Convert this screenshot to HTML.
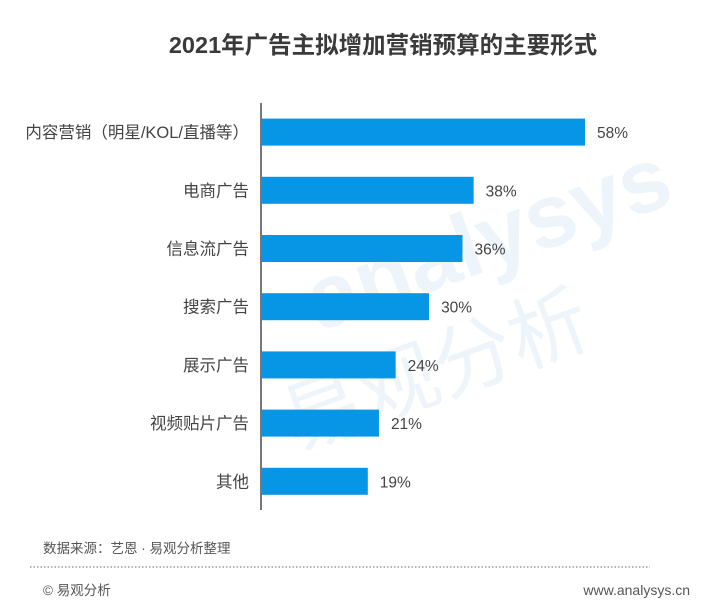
<!DOCTYPE html>
<html><head><meta charset="utf-8">
<style>
body{margin:0;background:#fff;}
#wrap{position:relative;width:703px;height:609px;overflow:hidden;background:#fff;font-family:"Liberation Sans","Noto Sans CJK SC",sans-serif;}
</style></head>
<body>
<div id="wrap">
<svg id="chart" width="703" height="609">
  <g opacity="0.08">
    <text x="300" y="300" font-size="90" font-weight="bold" fill="#2a8fd8" transform="rotate(-20 400 260)" font-family="Liberation Sans, sans-serif">analysys</text>
    <text x="270" y="410" font-size="80" fill="#2a8fd8" transform="rotate(-20 400 360)" font-family="Noto Sans CJK SC, sans-serif">易观分析</text>
  </g>
  <text x="383" y="53" text-anchor="middle" font-size="23.5" font-weight="bold" fill="#3a3a3a" font-family="Liberation Sans, Noto Sans CJK SC, sans-serif">2021年广告主拟增加营销预算的主要形式</text>
  <g id="bars"></g>
  <line x1="261" y1="103" x2="261" y2="510" stroke="#777" stroke-width="2"/>
  <text x="43" y="553" font-size="13.5" fill="#555" font-family="Liberation Sans, Noto Sans CJK SC, sans-serif">数据来源：艺恩 · 易观分析整理</text>
  <line x1="30" y1="567" x2="650" y2="567" stroke="#999" stroke-width="1.5" stroke-dasharray="1.5 2"/>
  <text x="43" y="595" font-size="13.5" fill="#555" font-family="Liberation Sans, Noto Sans CJK SC, sans-serif">© 易观分析</text>
  <text x="690" y="595" text-anchor="end" font-size="14" fill="#555" font-family="Liberation Sans, sans-serif">www.analysys.cn</text>
</svg>
</div>
<script>
const categories = ["内容营销（明星/KOL/直播等）","电商广告","信息流广告","搜索广告","展示广告","视频贴片广告","其他"];
const values = [58,38,36,30,24,21,19];
const valueLabels = ["58%","38%","36%","30%","24%","21%","19%"];

const x0 = 262, pxPer = (585-262)/58;
const xScale = v => x0 + v*pxPer;
const yTop = 103, band = 58.2;
const yCenter = i => yTop + band*(i+0.5);
const barH = 27;
const NS = "http://www.w3.org/2000/svg";
const g = document.getElementById('bars');
categories.forEach((c,i)=>{
  const cy = yCenter(i);
  const r = document.createElementNS(NS,'rect');
  r.setAttribute('x', x0);
  r.setAttribute('y', cy - barH/2);
  r.setAttribute('width', xScale(values[i]) - x0);
  r.setAttribute('height', barH);
  r.setAttribute('fill', '#0795e6');
  
  
  g.appendChild(r);
  const l = document.createElementNS(NS,'text');
  l.setAttribute('x', 249);
  l.setAttribute('y', cy + 6);
  l.setAttribute('text-anchor', 'end');
  l.setAttribute('font-size', '16.5');
  l.setAttribute('fill', '#444');
  l.setAttribute('font-family', 'Liberation Sans, Noto Sans CJK SC, sans-serif');
  l.textContent = c;
  
  
  g.appendChild(l);
  const v = document.createElementNS(NS,'text');
  v.setAttribute('x', xScale(values[i]) + 12);
  v.setAttribute('y', cy + 6);
  v.setAttribute('font-size', '15.5');
  v.setAttribute('fill', '#444');
  v.setAttribute('font-family', 'Liberation Sans, sans-serif');
  v.textContent = valueLabels[i];
  
  
  g.appendChild(v);
});
</script>
</body></html>
